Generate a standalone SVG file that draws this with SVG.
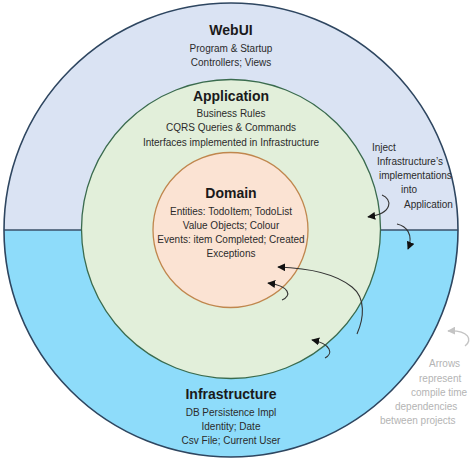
<svg xmlns="http://www.w3.org/2000/svg" width="474" height="459" viewBox="0 0 474 459">
<style>
.h{font-family:"Liberation Sans",Arial,sans-serif;font-weight:bold;font-size:14px;fill:#1a1a1a;text-anchor:middle}
.t{font-family:"Liberation Sans",Arial,sans-serif;font-size:10px;fill:#2b2b2b;text-anchor:middle}
.n{font-family:"Liberation Sans",Arial,sans-serif;font-size:10px;fill:#2b2b2b}
.g{font-family:"Liberation Sans",Arial,sans-serif;font-size:10px;fill:#b4b4b4}
.c{fill:none;stroke:#333;stroke-width:1.1}
.cg{fill:none;stroke:#c4c4c4;stroke-width:1.4}
</style>
<defs>
<marker id="ah" viewBox="0 0 10 10" refX="9" refY="5" markerWidth="8" markerHeight="8" markerUnits="userSpaceOnUse" orient="auto">
<path d="M0,0 L10,5 L0,10 Z" fill="#111"/>
</marker>
<marker id="ahg" viewBox="0 0 10 10" refX="9" refY="5" markerWidth="8" markerHeight="8" markerUnits="userSpaceOnUse" orient="auto">
<path d="M0,0 L10,5 L0,10 Z" fill="#c4c4c4"/>
</marker>
</defs>
<rect width="474" height="459" fill="#ffffff"/>
<g id="webui">
<circle cx="231" cy="230" r="227" fill="#dae3f3"/>
<text class="h" x="231" y="34.5">WebUI</text>
<text class="t" x="231" y="51.5">Program &amp; Startup</text>
<text class="t" x="231" y="65.5">Controllers; Views</text>
</g>
<g id="infrastructure">
<path d="M4,230 A227,227 0 0 0 458,230 Z" fill="#8edcfa"/>
<line x1="4" y1="230" x2="458" y2="230" stroke="#3a5068" stroke-width="1.3"/>
<circle cx="231" cy="230" r="227" fill="none" stroke="#2e4660" stroke-width="1.6"/>
<text class="h" x="231" y="399">Infrastructure</text>
<text class="t" x="231" y="415.5">DB Persistence Impl</text>
<text class="t" x="231" y="429.5">Identity; Date</text>
<text class="t" x="231" y="443.5">Csv File; Current User</text>
</g>
<g id="application">
<circle cx="231" cy="229" r="149.5" fill="#e2efda" stroke="#3a6b4e" stroke-width="1.3"/>
<text class="h" x="231" y="100.5">Application</text>
<text class="t" x="231" y="116.5">Business Rules</text>
<text class="t" x="231" y="130.5">CQRS Queries &amp; Commands</text>
<text class="t" x="231" y="145.5">Interfaces implemented in Infrastructure</text>
</g>
<g id="domain">
<circle cx="230.5" cy="230" r="77.5" fill="#fbe3d3" stroke="#c0874e" stroke-width="1.3"/>
<text class="h" x="231" y="198">Domain</text>
<text class="t" x="231" y="214.5">Entities: TodoItem; TodoList</text>
<text class="t" x="231" y="228.5">Value Objects; Colour</text>
<text class="t" x="231" y="242.5">Events: item Completed; Created</text>
<text class="t" x="231" y="256.5">Exceptions</text>
</g>
<g id="inject-note">
<text class="n" x="372" y="150.5">Inject</text>
<text class="n" x="377" y="164.5">Infrastructure’s</text>
<text class="n" x="379" y="178.5">implementations</text>
<text class="n" x="401" y="192.5">into</text>
<text class="n" x="404" y="207.5">Application</text>
</g>
<g id="legend">
<text class="g" x="429" y="366.5">Arrows</text>
<text class="g" x="419" y="381.5">represent</text>
<text class="g" x="411" y="395.5">compile time</text>
<text class="g" x="395" y="409.5">dependencies</text>
<text class="g" x="380" y="423.5">between projects</text>
</g>
<g id="connectors">
<path class="c" d="M382,195 C392,199 394,213 368,217" marker-end="url(#ah)"/>
<path class="c" d="M397,224 C406,226 414,234 408,249" marker-end="url(#ah)"/>
<path class="c" d="M357,334 C364,318 366,298 352,287 C336,274 308,268 278,267" marker-end="url(#ah)"/>
<path class="c" d="M282,300 C292,296 290,286 268,283" marker-end="url(#ah)"/>
<path class="c" d="M325,358 C333,354 332,344 312,340" marker-end="url(#ah)"/>
<path class="cg" d="M465,346 C473,340 469,330 448,331" marker-end="url(#ahg)"/>
</g>
</svg>
